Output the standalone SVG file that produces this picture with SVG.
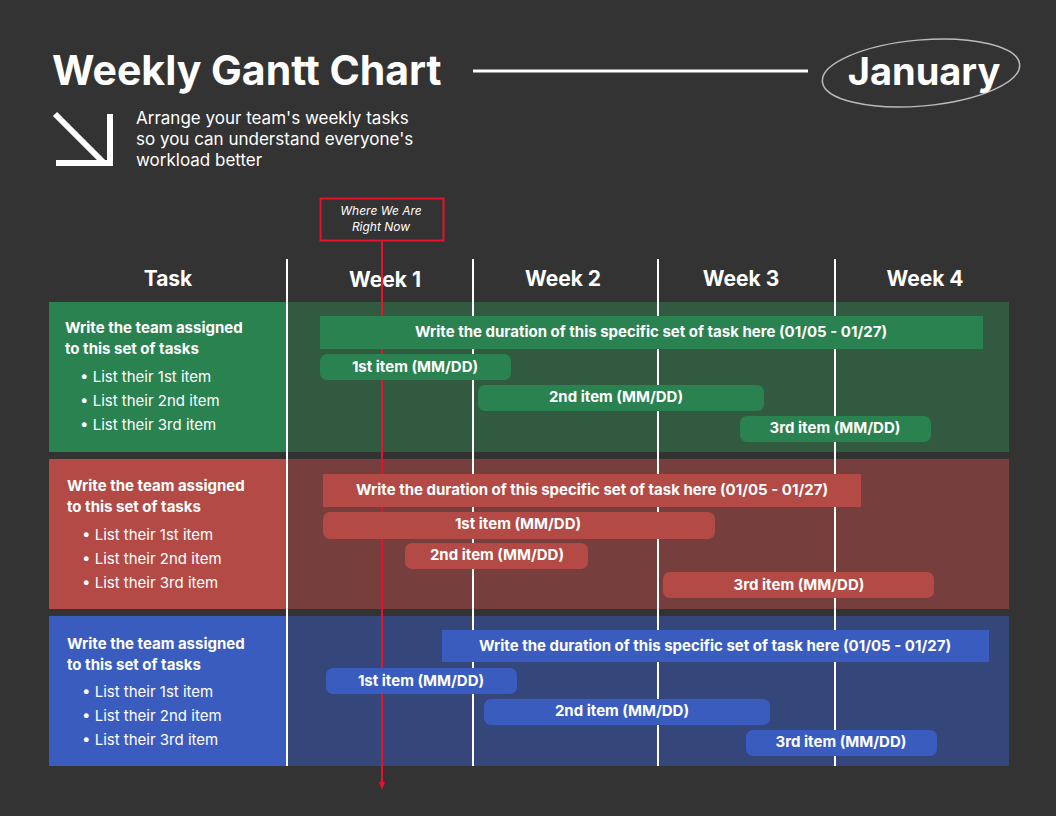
<svg xmlns="http://www.w3.org/2000/svg" width="1056" height="816" viewBox="0 0 1056 816">
<style>
text{font-family:Inter,"Liberation Sans",sans-serif;fill:#fff}
.h{font-weight:700;font-size:21px;text-anchor:middle}
.team{font-weight:700;font-size:15px}
.li{font-size:15px}
.bar{font-weight:700;font-size:15px;text-anchor:middle}
.vl{stroke:#fff;stroke-width:2}
</style>
<defs><marker id="ar" markerWidth="8" markerHeight="8" refX="4" refY="4" orient="auto" markerUnits="userSpaceOnUse"><path d="M0,1 L8,4 L0,7z" fill="#e8102a"/></marker></defs>
<rect width="1056" height="816" fill="#333"/>
<g id="header">
<text x="52" y="85" font-size="41" font-weight="700">Weekly Gantt Chart</text>
<line x1="473" y1="71" x2="808" y2="71" stroke="#fff" stroke-width="3"/>
<ellipse cx="921" cy="73" rx="99" ry="33" fill="none" stroke="#bbb" stroke-width="1.5" transform="rotate(-5 921 73)"/>
<text x="924" y="85" font-size="38" font-weight="700" text-anchor="middle">January</text>
<path d="M55,114 L103,162 M56,163 L110,163 L110,114" stroke="#fff" stroke-width="6" fill="none"/>
<text x="136" y="124" font-size="17">Arrange your team's weekly tasks</text>
<text x="136" y="145" font-size="17">so you can understand everyone's</text>
<text x="136" y="166" font-size="17">workload better</text>
<text class="h" x="168" y="286">Task</text>
<text class="h" x="385" y="287">Week 1</text>
<text class="h" x="563" y="286">Week 2</text>
<text class="h" x="741" y="286">Week 3</text>
<text class="h" x="925" y="286">Week 4</text>
</g>
<g id="row-green">
<rect x="49" y="302" width="238" height="150" fill="#2a8250"/>
<rect x="287" y="302" width="722" height="150" fill="#325a41"/>
<text class="team" x="65" y="333">Write the team assigned</text>
<text class="team" x="65" y="354">to this set of tasks</text>
<text class="li" x="80" y="382">•  List their 1st item</text>
<text class="li" x="80" y="406">•  List their 2nd item</text>
<text class="li" x="80" y="430">•  List their 3rd item</text>
</g>
<g id="row-red">
<rect x="49" y="459" width="238" height="150" fill="#b34a45"/>
<rect x="287" y="459" width="722" height="150" fill="#763f3e"/>
<text class="team" x="67" y="491">Write the team assigned</text>
<text class="team" x="67" y="512">to this set of tasks</text>
<text class="li" x="82" y="540">•  List their 1st item</text>
<text class="li" x="82" y="564">•  List their 2nd item</text>
<text class="li" x="82" y="588">•  List their 3rd item</text>
</g>
<g id="row-blue">
<rect x="49" y="616" width="238" height="150" fill="#3a5cbf"/>
<rect x="287" y="616" width="722" height="150" fill="#34467a"/>
<text class="team" x="67" y="649">Write the team assigned</text>
<text class="team" x="67" y="670">to this set of tasks</text>
<text class="li" x="82" y="697">•  List their 1st item</text>
<text class="li" x="82" y="721">•  List their 2nd item</text>
<text class="li" x="82" y="745">•  List their 3rd item</text>
</g>
<g id="connectors">
<line class="vl" x1="287" y1="259" x2="287" y2="766"/>
<line class="vl" x1="473" y1="259" x2="473" y2="766"/>
<line class="vl" x1="658" y1="259" x2="658" y2="766"/>
<line class="vl" x1="835" y1="259" x2="835" y2="766"/>
<line x1="382" y1="241" x2="382" y2="786" stroke="#e8102a" stroke-width="2" marker-end="url(#ar)"/>
</g>
<g id="now-marker">
<rect x="320.5" y="198.5" width="123" height="42" fill="#333" stroke="#e8102a" stroke-width="2"/>
<text x="381" y="215" font-size="12" font-style="italic" text-anchor="middle">Where We Are</text>
<text x="381" y="231" font-size="12" font-style="italic" text-anchor="middle">Right Now</text>
</g>
<g id="bars-green" fill="#2a8250">
<rect x="320" y="316" width="663" height="33"/>
<rect x="320" y="354" width="191" height="26" rx="7"/>
<rect x="478" y="385" width="286" height="26" rx="7"/>
<rect x="740" y="416" width="191" height="26" rx="7"/>
<text class="bar" x="651" y="337">Write the duration of this specific set of task here (01/05 - 01/27)</text>
<text class="bar" x="415" y="372">1st item (MM/DD)</text>
<text class="bar" x="616" y="402">2nd item (MM/DD)</text>
<text class="bar" x="835" y="433">3rd item (MM/DD)</text>
</g>
<g id="bars-red" fill="#b34a45">
<rect x="323" y="474" width="538" height="33"/>
<rect x="323" y="512" width="392" height="27" rx="7"/>
<rect x="405" y="543" width="183" height="26" rx="7"/>
<rect x="663" y="572" width="271" height="26" rx="7"/>
<text class="bar" x="592" y="495">Write the duration of this specific set of task here (01/05 - 01/27)</text>
<text class="bar" x="518" y="529">1st item (MM/DD)</text>
<text class="bar" x="497" y="560">2nd item (MM/DD)</text>
<text class="bar" x="799" y="590">3rd item (MM/DD)</text>
</g>
<g id="bars-blue" fill="#3a5cbf">
<rect x="442" y="630" width="547" height="32"/>
<rect x="326" y="668" width="191" height="26" rx="7"/>
<rect x="484" y="699" width="286" height="26" rx="7"/>
<rect x="746" y="730" width="191" height="26" rx="7"/>
<text class="bar" x="715" y="651">Write the duration of this specific set of task here (01/05 - 01/27)</text>
<text class="bar" x="421" y="686">1st item (MM/DD)</text>
<text class="bar" x="622" y="716">2nd item (MM/DD)</text>
<text class="bar" x="841" y="747">3rd item (MM/DD)</text>
</g>
</svg>
